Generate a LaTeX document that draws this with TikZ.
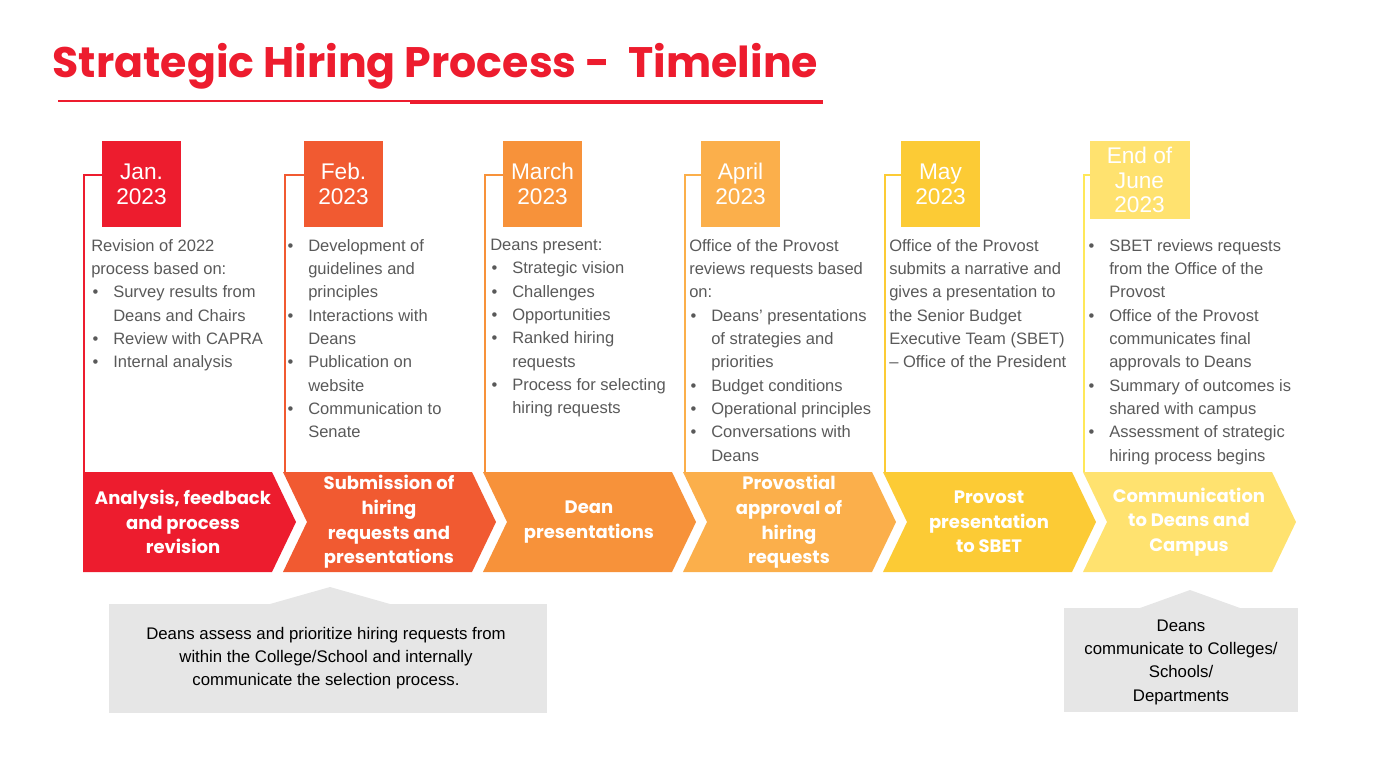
\documentclass[tikz,border=0pt]{standalone}
\usepackage{fontspec}
\setmainfont{Liberation Sans}
\newfontfamily\headfont{Poppins}
\definecolor{cA}{HTML}{ED1C2E}
\definecolor{cB}{HTML}{F15A31}
\definecolor{cC}{HTML}{F7923A}
\definecolor{cD}{HTML}{FBAF4B}
\definecolor{cE}{HTML}{FCCB35}
\definecolor{cF}{HTML}{FFE26F}
\definecolor{bodygray}{HTML}{595959}
\definecolor{notegray}{HTML}{E6E6E6}
\newcommand{\bul}{\makebox[16.5pt][l]{\hspace{1pt}\textbullet}}
\newcommand{\cnt}{\hspace*{16.5pt}}
\tikzset{
  datebox/.style={fill=#1, inner sep=0pt, text=white, font=\fontsize{17}{18.5}\selectfont, align=center},
  bodytxt/.style={anchor=north west, inner sep=0pt, text=bodygray, align=left, font=\fontsize{12.4}{17.5}\selectfont},
  chevtxt/.style={text=white, align=center, font=\headfont\bfseries\fontsize{13.5}{18.5}\selectfont},
  bracket/.style={draw=#1, line width=1.5pt},
  notetxt/.style={align=center, font=\fontsize{12.6}{17.5}\selectfont}
}
\begin{document}
\begin{tikzpicture}[x=0.75pt,y=-0.75pt]
    \useasboundingbox (0,0) rectangle (1391,780);

    % title
    \node[anchor=west, text=cA, font=\headfont\bfseries\fontsize{32}{36}\selectfont] (title) at (48,66) {Strategic Hiring Process -\ \ Timeline};
    \draw[cA, line width=2pt] (58,101) -- (410,101);
    \draw[cA, line width=3.5pt] (410,102) -- (823,102);

    % brackets
    \draw[bracket=cA] (181,175) -| (84,472);
    \draw[bracket=cB] (304,175) -| (285,472);
    \draw[bracket=cC] (504,175) -| (485,472);
    \draw[bracket=cD] (704,175) -| (685,472);
    \draw[bracket=cE] (904,175) -| (885,472);
    \draw[bracket=cF!80!yellow] (1104,175) -| (1084,472);

    % date boxes
    \node[datebox=cA, minimum width=59.25pt, minimum height=64.5pt] (d1) at (141.5,184) {Jan.\\2023};
    \node[datebox=cB, minimum width=59.25pt, minimum height=64.5pt] (d2) at (343.5,184) {Feb.\\2023};
    \node[datebox=cC, minimum width=59.25pt, minimum height=64.5pt] (d3) at (542.5,184) {March\\2023};
    \node[datebox=cD, minimum width=59.25pt, minimum height=64.5pt] (d4) at (740.5,184) {April\\2023};
    \node[datebox=cE, minimum width=59.25pt, minimum height=64.5pt] (d5) at (940.5,184) {May\\2023};
    \node[datebox=cF, minimum width=75pt, minimum height=58pt] (d6) at (1139.5,180) {End of\\June\\2023};

    % column texts
    \node[bodytxt] (t1) at (91,239) {Revision of 2022\\process based on:\\\bul Survey results from\\\cnt Deans and Chairs\\\bul Review with CAPRA\\\bul Internal analysis};
    \node[bodytxt] (t2) at (286,239) {\bul Development of\\\cnt guidelines and\\\cnt principles\\\bul Interactions with\\\cnt Deans\\\bul Publication on\\\cnt website\\\bul Communication to\\\cnt Senate};
    \node[bodytxt] (t3) at (490,239) {Deans present:\\\bul Strategic vision\\\bul Challenges\\\bul Opportunities\\\bul Ranked hiring\\\cnt requests\\\bul Process for selecting\\\cnt hiring requests};
    \node[bodytxt] (t4) at (689,239) {Office of the Provost\\reviews requests based\\on:\\\bul Deans' presentations\\\cnt of strategies and\\\cnt priorities\\\bul Budget conditions\\\bul Operational principles\\\bul Conversations with\\\cnt Deans};
    \node[bodytxt] (t5) at (889,239) {Office of the Provost\\submits a narrative and\\gives a presentation to\\the Senior Budget\\Executive Team (SBET)\\-- Office of the President};
    \node[bodytxt] (t6) at (1087,239) {\bul SBET reviews requests\\\cnt from the Office of the\\\cnt Provost\\\bul Office of the Provost\\\cnt communicates final\\\cnt approvals to Deans\\\bul Summary of outcomes is\\\cnt shared with campus\\\bul Assessment of strategic\\\cnt hiring process begins};

    % chevrons
    \fill[cA] (83,472) -- (272,472) -- (296,522) -- (272,572) -- (83,572) -- cycle;
    \fill[cB] (283,472) -- (472,472) -- (496,522) -- (472,572) -- (283,572) -- (307,522) -- cycle;
    \fill[cC] (483,472) -- (672,472) -- (696,522) -- (672,572) -- (483,572) -- (507,522) -- cycle;
    \fill[cD] (683,472) -- (872,472) -- (896,522) -- (872,572) -- (683,572) -- (707,522) -- cycle;
    \fill[cE] (883,472) -- (1072,472) -- (1096,522) -- (1072,572) -- (883,572) -- (907,522) -- cycle;
    \fill[cF] (1083,472) -- (1272,472) -- (1296,522) -- (1272,572) -- (1083,572) -- (1107,522) -- cycle;

    \node[chevtxt] (c1) at (183,522) {Analysis, feedback\\and process\\revision};
    \node[chevtxt] (c2) at (389,522) {Submission of\\hiring\\requests and\\presentations};
    \node[chevtxt] (c3) at (589,522) {Dean\\presentations};
    \node[chevtxt] (c4) at (789,522) {Provostial\\approval of\\hiring\\requests};
    \node[chevtxt] (c5) at (989,522) {Provost\\presentation\\to SBET};
    \node[chevtxt] (c6) at (1189,522) {Communication\\to Deans and\\Campus};

    % notes
    \fill[notegray] (270,604) -- (330,587) -- (390,604) -- cycle;
    \fill[notegray] (109,604) rectangle (547,713);
    \node[notetxt] (n1) at (326,658) {Deans assess and prioritize hiring requests from\\within the College/School and internally\\communicate the selection process.};
    \fill[notegray] (1140,608) -- (1190,590) -- (1240,608) -- cycle;
    \fill[notegray] (1064,608) rectangle (1298,712);
    \node[notetxt] (n2) at (1181,662) {Deans\\communicate to Colleges/\\Schools/\\Departments};
\end{tikzpicture}
\end{document}
